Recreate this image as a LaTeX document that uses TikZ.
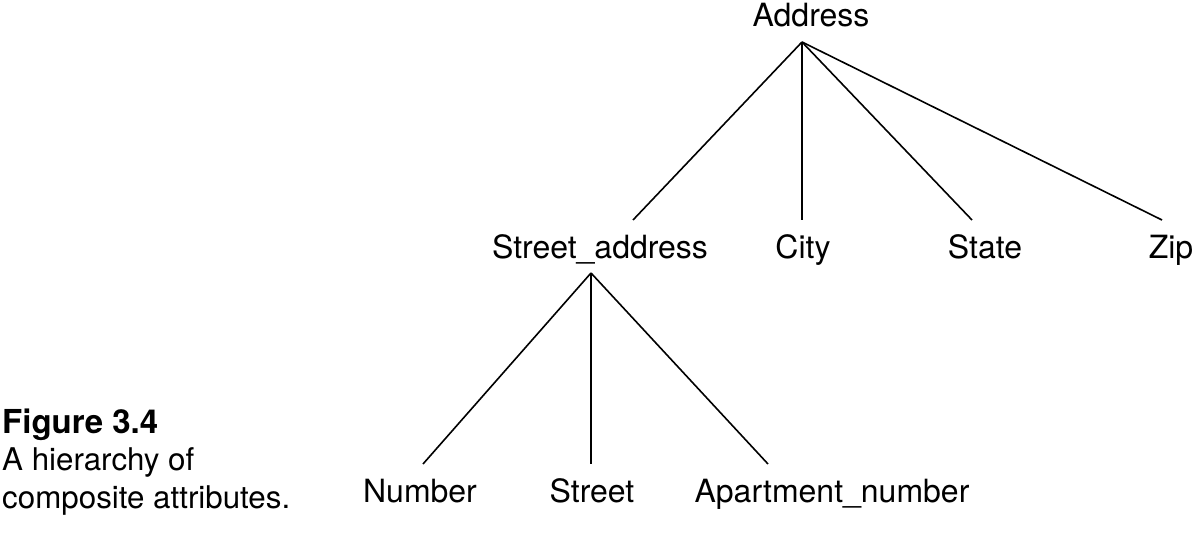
\documentclass[tikz,border=0pt]{standalone}
\usepackage{fontspec}
\setmainfont{TeX Gyre Heros}
\begin{document}
\begin{tikzpicture}[x=1pt,y=-1pt,
	attr/.style={anchor=base,inner sep=0pt,text height=23pt,text depth=0pt,outer ysep=15pt,font=\fontsize{32}{38}\selectfont},
	caption/.style={anchor=base west,inner sep=0pt,font=\fontsize{31.3}{37}\selectfont},
	link/.style={line width=1.6pt}]
	\useasboundingbox (0,0) rectangle (1193,535);
	\node[attr] (addr) at (811,27) {Address};
	\node[attr] (street) at (600,258) {Street\_address};
	\node[attr] (city) at (803,258) {City};
	\node[attr] (state) at (985,258) {State};
	\node[attr] (zip) at (1171,258) {Zip};
	\node[attr] (number) at (420,502) {Number};
	\node[attr] (streetname) at (592,502) {Street};
	\node[attr] (apt) at (832,502) {Apartment\_number};
	\draw[link] ([xshift=-9pt]addr.south) -- ([xshift=33pt]street.north);
	\draw[link] ([xshift=-9pt]addr.south) -- ([xshift=-1pt]city.north);
	\draw[link] ([xshift=-9pt]addr.south) -- ([xshift=-13pt]state.north);
	\draw[link] ([xshift=-9pt]addr.south) -- ([xshift=-9pt]zip.north);
	\draw[link] ([xshift=-9pt]street.south) -- ([xshift=3pt]number.north);
	\draw[link] ([xshift=-9pt]street.south) -- ([xshift=-1pt]streetname.north);
	\draw[link] ([xshift=-9pt]street.south) -- ([xshift=-64pt]apt.north);
	\node[caption,font=\fontsize{33}{37}\selectfont\bfseries] (fig) at (2,433) {Figure 3.4};
	\node[caption] (cap1) at (2,470) {A hierarchy of};
	\node[caption] (cap2) at (2,508) {composite attributes.};
\end{tikzpicture}
\end{document}
